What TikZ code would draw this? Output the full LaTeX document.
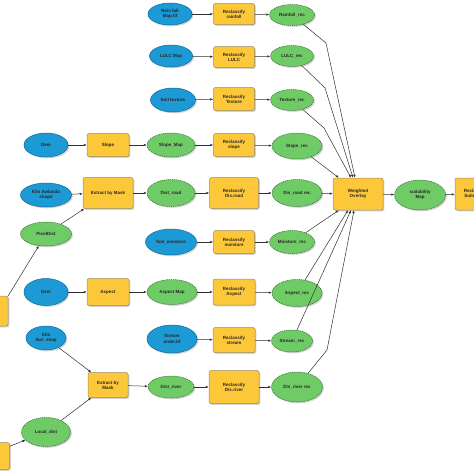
\documentclass[tikz,border=0pt]{standalone}
\usepackage{fontspec}
\setmainfont{Liberation Sans}
\usetikzlibrary{shapes.geometric,shadows,arrows.meta}
\definecolor{bluefill}{HTML}{1C9AD6}
\definecolor{blueedge}{HTML}{14679A}
\definecolor{greenfill}{HTML}{6FCB66}
\definecolor{greenedge}{HTML}{2F6A2C}
\definecolor{toolfill}{HTML}{FDC73A}
\definecolor{tooledge}{HTML}{9A8A60}
\definecolor{linec}{HTML}{303030}
\tikzset{
  base/.style={inner sep=0pt, align=center, font=\fontsize{4.5}{5.2}\selectfont\bfseries, text=black!85,
    drop shadow={shadow xshift=1.3pt, shadow yshift=-1.3pt, fill=black!35}},
  blueell/.style={base, ellipse, fill=bluefill, draw=blueedge, line width=0.5pt},
  greenell/.style={base, ellipse, fill=greenfill, draw=greenedge, dashed, dash pattern=on 1.2pt off 0.8pt, line width=0.5pt},
  toolbox/.style={base, rectangle, rounded corners=2pt, fill=toolfill, draw=tooledge, line width=0.5pt},
  conn/.style={draw=linec, line width=0.5pt, -{Latex[length=3pt,width=2.4pt]}},
}
\begin{document}
\begin{tikzpicture}[x=1pt,y=-1pt]
\useasboundingbox (0,0) rectangle (474,474);
\clip (0,0) rectangle (474,474);
\fill[white] (0,0) rectangle (474,474);
% row 1
\node[blueell, minimum width=44pt, minimum height=22pt] (rain) at (170,14) {Rain fall\\Map.tif};
\node[toolbox, minimum width=41pt, minimum height=21pt] (rclRain) at (234,14) {Reclassify\\rainfall};
\node[greenell, minimum width=45pt, minimum height=21pt] (rainRec) at (292,15) {Rainfall\_rec};
% row 2
\node[blueell, minimum width=43pt, minimum height=22pt] (lulc) at (171,56) {LULC Map};
\node[toolbox, minimum width=41pt, minimum height=21pt] (rclLulc) at (234,57) {Reclassify\\LULC};
\node[greenell, minimum width=43pt, minimum height=21pt] (lulcRec) at (292,56) {LULC\_rec};
% row 3
\node[blueell, minimum width=45pt, minimum height=24pt] (soilTex) at (173,100) {Soil texture};
\node[toolbox, minimum width=41pt, minimum height=23pt] (rclTex) at (234,99) {Reclassify\\Texture};
\node[greenell, minimum width=43pt, minimum height=21pt] (texRec) at (292,100) {Texture\_rec};
% row 4
\node[blueell, minimum width=44pt, minimum height=24pt] (dem1) at (46,145) {Dem};
\node[toolbox, minimum width=42pt, minimum height=23pt] (slope) at (108,145) {Slope};
\node[greenell, minimum width=48pt, minimum height=24pt] (slopeMap) at (171,145) {Slope\_Map};
\node[toolbox, minimum width=41pt, minimum height=23pt] (rclSlope) at (234,145) {Reclassify\\slope};
\node[greenell, minimum width=50pt, minimum height=26pt] (slopeRec) at (297,146) {Slope\_rec};
% row 5
\node[blueell, minimum width=51pt, minimum height=24pt] (kilo1) at (46,195) {Kilo Awlando\\shape};
\node[toolbox, minimum width=50pt, minimum height=31pt] (ebm1) at (108,193) {Extract by Mask};
\node[greenell, minimum width=48pt, minimum height=27pt] (distRoad) at (171,193) {Dist\_road};
\node[toolbox, minimum width=49pt, minimum height=31pt] (rclRoad) at (234,193) {Reclassify\\Dis.road};
\node[greenell, minimum width=50pt, minimum height=27pt] (roadRec) at (297,193) {Dis\_road rec};
\node[toolbox, minimum width=50pt, minimum height=32pt] (wo) at (358,194) {Weighted\\Overlay};
\node[greenell, minimum width=51pt, minimum height=30pt] (suit) at (420,195) {suitability\\Map};
\node[toolbox, minimum width=40pt, minimum height=32pt] (final) at (475,194) {Reclassify\\Suitability};
\node[greenell, minimum width=51pt, minimum height=24pt] (pix) at (46,234) {PixelDist};
% row 6
\node[blueell, minimum width=51pt, minimum height=26pt] (soilMoist) at (171,242) {Soil\_moisture};
\node[toolbox, minimum width=41pt, minimum height=23pt] (rclMoist) at (234,242) {Reclassify\\moisture};
\node[greenell, minimum width=45pt, minimum height=23pt] (moistRec) at (292,242) {Moisture\_rec};
% row 7
\node[blueell, minimum width=44pt, minimum height=27pt] (dem2) at (46,292) {Dem};
\node[toolbox, minimum width=42pt, minimum height=27pt] (aspect) at (108,292) {Aspect};
\node[greenell, minimum width=50pt, minimum height=25pt] (aspectMap) at (172,292) {Aspect Map};
\node[toolbox, minimum width=42pt, minimum height=26pt] (rclAspect) at (234,292) {Reclassify\\Aspect};
\node[greenell, minimum width=50pt, minimum height=27pt] (aspectRec) at (297,293) {Aspect\_rec};
% row 8
\node[blueell, minimum width=40pt, minimum height=24pt] (kilo2) at (46,338) {Kilo\\Awl. shap};
\node[blueell, minimum width=50pt, minimum height=28pt] (stream) at (172,339) {Stream\\order.tif};
\node[toolbox, minimum width=42pt, minimum height=25pt] (rclStream) at (234,340) {Reclassify\\stream};
\node[greenell, minimum width=41pt, minimum height=22pt] (streamRec) at (292,341) {Stream\_rec};
% row 9
\node[toolbox, minimum width=40pt, minimum height=25pt] (ebm2) at (108,385) {Extract by\\Mask};
\node[greenell, minimum width=46pt, minimum height=22pt] (distRiver) at (171,387) {Dist\_river};
\node[toolbox, minimum width=50pt, minimum height=33pt] (rclRiver) at (234,387) {Reclassify\\Dis.river};
\node[greenell, minimum width=51pt, minimum height=30pt] (riverRec) at (297,387) {Dis\_river rec};
\node[greenell, minimum width=49pt, minimum height=29pt] (local) at (46,432) {Local\_dist};
% partial boxes on the left edge
\node[toolbox, minimum width=48pt, minimum height=30pt] (lb1) at (-16,311) {};
\node[toolbox, minimum width=49pt, minimum height=27pt] (lb2) at (-15,456) {};
% connectors
\draw[conn] (rain) -- (rclRain);
\draw[conn] (rclRain) -- (rainRec);
\draw[conn] (lulc) -- (rclLulc);
\draw[conn] (rclLulc) -- (lulcRec);
\draw[conn] (soilTex) -- (rclTex);
\draw[conn] (rclTex) -- (texRec);
\draw[conn] (dem1) -- (slope);
\draw[conn] (slope) -- (slopeMap);
\draw[conn] (slopeMap) -- (rclSlope);
\draw[conn] (rclSlope) -- (slopeRec);
\draw[conn] (kilo1) -- (ebm1);
\draw[conn] (pix) -- (ebm1);
\draw[conn] (lb1.north east) -- (pix);
\draw[conn] (ebm1) -- (distRoad);
\draw[conn] (distRoad) -- (rclRoad);
\draw[conn] (rclRoad) -- (roadRec);
\draw[conn] (roadRec) -- (wo);
\draw[conn] (wo) -- (suit);
\draw[conn] (suit) -- (final);
\draw[conn] (soilMoist) -- (rclMoist);
\draw[conn] (rclMoist) -- (moistRec);
\draw[conn] (dem2) -- (aspect);
\draw[conn] (aspect) -- (aspectMap);
\draw[conn] (aspectMap) -- (rclAspect);
\draw[conn] (rclAspect) -- (aspectRec);
\draw[conn] (stream) -- (rclStream);
\draw[conn] (rclStream) -- (streamRec);
\draw[conn] (kilo2) -- (ebm2);
\draw[conn] (local) -- (ebm2);
\draw[conn] (lb2) -- (local);
\draw[conn] (ebm2) -- (distRiver);
\draw[conn] (distRiver) -- (rclRiver);
\draw[conn] (rclRiver) -- (riverRec);
% into weighted overlay
\draw[conn] (rainRec) -- (326,43) -- ([xshift=-3pt]wo.north);
\draw[conn] (lulcRec) -- (325,88) -- ([xshift=-5pt]wo.north);
\draw[conn] (texRec) -- (324,128) -- ([xshift=-7pt]wo.north);
\draw[conn] (slopeRec) -- ([xshift=6pt]wo.north west);
\draw[conn] (moistRec) -- ([xshift=6pt]wo.south west);
\draw[conn] (aspectRec) -- ([xshift=-10pt]wo.south);
\draw[conn] (streamRec) -- ([xshift=-7pt]wo.south);
\draw[conn] (riverRec) -- (327,350) -- ([xshift=-4pt]wo.south);
\end{tikzpicture}
\end{document}
